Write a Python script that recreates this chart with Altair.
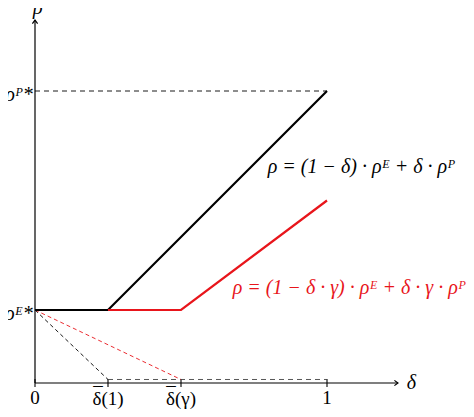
import altair as alt
import pandas as pd

# ---- data (in plot units: delta on x, rho on y) ----
num_tick_x = [0, 1]
num_tick_labels = ["0", "1"]
bar_tick_x = [0.25, 0.5]
bar_tick_labels = ["δ(1)", "δ(γ)"]
tick_x = num_tick_x + bar_tick_x

black_x = [0, 0.25, 1]
black_y = [0.25, 0.25, 1.0]
red_x = [0.25, 0.5, 1]
red_y = [0.25, 0.25, 0.625]

black_dash_x = [0, 0.25]
black_dash_y = [0.25, 0.012]
red_dash_x = [0, 0.5]
red_dash_y = [0.25, 0.012]
floor_x = [0.25, 1]
floor_y = [0.012, 0.012]
top_x = [0, 1]
top_y = [1.0, 1.0]

rho_E = 0.25
rho_P = 1.0
x_max = 1.243
y_max = 1.243

W, H = 458, 401
XD = [-27 / 292, (W - 27) / 292]
YD = [-26 / 292, 375 / 292]

RED = "#e8151b"
SERIF = "Liberation Serif, DejaVu Serif, serif"

xs = alt.Scale(domain=XD, nice=False, zero=False)
ys = alt.Scale(domain=YD, nice=False, zero=False)


def X(f="x"):
    return alt.X(f + ":Q", scale=xs, axis=None)


def Y(f="y"):
    return alt.Y(f + ":Q", scale=ys, axis=None)


def line(xv, yv, color, width, dash=None):
    df = pd.DataFrame({"x": xv, "y": yv, "o": list(range(len(xv)))})
    kw = dict(color=color, strokeWidth=width, strokeCap="butt", clip=False)
    if dash:
        kw["strokeDash"] = dash
    return alt.Chart(df).mark_line(**kw).encode(x=X(), y=Y(), order="o:Q")


layers = []
# axes
layers.append(line([0, x_max], [0, 0], "black", 1.2))
layers.append(line([0, 0], [0, y_max], "black", 1.2))
# ticks
tdf = pd.DataFrame({"x": tick_x, "y": [-0.014] * 4, "y2": [0.014] * 4})
layers.append(alt.Chart(tdf).mark_rule(color="black", strokeWidth=1.1).encode(
    x=X(), y=Y(), y2="y2:Q"))
ndf = pd.DataFrame({"x": num_tick_x, "y": [0, 0], "lab": num_tick_labels})
layers.append(alt.Chart(ndf).mark_text(font=SERIF, fontSize=19, baseline="top", dy=6,
                                       color="black").encode(x=X(), y=Y(), text="lab:N"))
bdf = pd.DataFrame({"x": bar_tick_x, "y": [0, 0], "lab": bar_tick_labels, "bar": ["¯", "¯"]})
layers.append(alt.Chart(bdf).mark_text(font=SERIF, fontSize=19, baseline="top", dy=7,
                                       color="black").encode(x=X(), y=Y(), text="lab:N"))
layers.append(alt.Chart(bdf).mark_text(font=SERIF, fontSize=19, baseline="top", dy=2, dx=-10,
                                       color="black").encode(x=X(), y=Y(), text="bar:N"))
# arrowheads
adf = pd.DataFrame({"x": [0, x_max], "y": [y_max, 0], "a": [0, 90]})
layers.append(alt.Chart(adf).mark_point(shape="M-0.55,0.75 L0,0 L0.55,0.75", filled=False,
                                        stroke="black", strokeWidth=1.2, size=90, opacity=1).encode(
    x=X(), y=Y(), angle=alt.Angle("a:Q", scale=None)))
# dashed
layers.append(line(top_x, top_y, "black", 0.9, [5, 4]))
layers.append(line(floor_x, floor_y, "#444444", 0.9, [5, 4]))
layers.append(line(black_dash_x, black_dash_y, "black", 0.9, [4, 3]))
layers.append(line(red_dash_x, red_dash_y, RED, 0.9, [4, 3]))
# main curves
layers.append(line(black_x, black_y, "black", 2.2))
layers.append(line(red_x, red_y, RED, 2.2))

# labels
lab = pd.DataFrame({
    "x": [-0.008, -0.008, 0.01, x_max + 0.03],
    "y": [rho_P, rho_E, y_max + 0.04, 0],
    "t": ["ρᴾ*", "ρᴱ*", "ρ", "δ"],
    "al": ["right", "right", "center", "left"],
})
for i, r in lab.iterrows():
    layers.append(alt.Chart(lab.iloc[[i]]).mark_text(
        font=SERIF, fontStyle="italic", fontSize=20, align=r["al"], baseline="middle",
        dy=4 if i < 2 else 0, color="black").encode(x=X(), y=Y(), text="t:N"))

f1 = pd.DataFrame({"x": [0.797], "y": [0.74], "t": ["ρ = (1 − δ) · ρᴱ + δ · ρᴾ"]})
f2 = pd.DataFrame({"x": [0.677], "y": [0.325], "t": ["ρ = (1 − δ · γ) · ρᴱ + δ · γ · ρᴾ"]})
layers.append(alt.Chart(f1).mark_text(font=SERIF, fontStyle="italic", fontSize=20, align="left",
                                      baseline="middle", color="black").encode(x=X(), y=Y(), text="t:N"))
layers.append(alt.Chart(f2).mark_text(font=SERIF, fontStyle="italic", fontSize=20, align="left",
                                      baseline="middle", color=RED).encode(x=X(), y=Y(), text="t:N"))

chart = alt.layer(*layers).properties(
    width=W, height=H, padding=0, autosize=alt.AutoSizeParams(type="none")
).configure_view(stroke=None)

chart.save("out.html", embed_options={"renderer": "svg", "actions": False})
